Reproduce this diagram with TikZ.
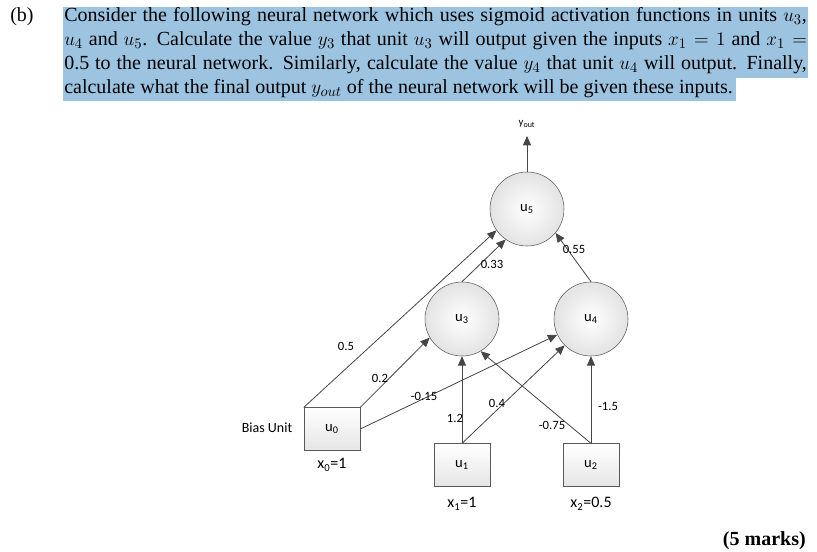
\documentclass[tikz,border=0pt]{standalone}
\usepackage{fontspec}
\setmainfont{Liberation Serif}
\newfontfamily\diag{Carlito}
\usetikzlibrary{arrows.meta}
\begin{document}
\begin{tikzpicture}[x=0.75pt,y=-0.75pt,
  unit/.style={circle,draw=gray!70!black,inner sep=0pt,minimum size=55.5pt,inner color=white,outer color=gray!22,font=\diag\fontsize{11}{13}\selectfont},
  box/.style={rectangle,draw=gray!70!black,inner sep=0pt,minimum width=42pt,minimum height=32pt,top color=white,bottom color=gray!20,font=\diag\fontsize{11}{13}\selectfont},
  lab/.style={font=\diag\fontsize{9.5}{11}\selectfont,inner sep=0pt},
  big/.style={font=\diag\fontsize{12}{14}\selectfont,inner sep=0pt},
  edge/.style={draw=gray!55!black,line width=0.6pt,-{Triangle[length=7pt,width=6pt]}}]
\useasboundingbox (0,0) rectangle (817,552);
\fill[white] (0,0) rectangle (817,552);
\definecolor{hl}{RGB}{156,195,224}
\fill[hl] (63,7) rectangle (808,78);
\fill[hl] (63,78) rectangle (736,101);
\node[anchor=base west,inner sep=0pt,font=\fontsize{15}{18}\selectfont] (b) at (10,22) {(b)};
\node[anchor=north west,inner sep=0pt,text width=557pt,align=justify,font=\fontsize{15}{18}\selectfont] (q) at (64,7.5)
{Consider the following neural network which uses sigmoid activation functions in units $u_3$,\linebreak
$u_4$ and $u_5$. Calculate the value $y_3$ that unit $u_3$ will output given the inputs $x_1=1$ and $x_1=$\linebreak
0.5 to the neural network. Similarly, calculate the value $y_4$ that unit $u_4$ will output. Finally,\linebreak
calculate what the final output $y_{out}$ of the neural network will be given these inputs.};
\node[anchor=base east,inner sep=0pt,font=\bfseries\fontsize{15}{18}\selectfont] (m) at (806,545) {(5 marks)};

\node[unit] (u5) at (527,209) {u\textsubscript{5}};
\node[unit] (u3) at (462,319) {u\textsubscript{3}};
\node[unit] (u4) at (591,319) {u\textsubscript{4}};
\node[box] (u0) at (332,429) {u\textsubscript{0}};
\node[box] (u1) at (462,465) {u\textsubscript{1}};
\node[box] (u2) at (591,465) {u\textsubscript{2}};
\coordinate (yo) at (527,136);
\node[lab,font=\diag\fontsize{8}{9}\selectfont] (ylab) at (527,124) {y\textsubscript{out}};
\node[lab,font=\diag\fontsize{10.5}{12}\selectfont] (bias) at (267,428) {Bias Unit};
\node[big] (x0) at (332,465) {x\textsubscript{0}=1};
\node[big] (x1) at (462,504) {x\textsubscript{1}=1};
\node[big] (x2) at (591,504) {x\textsubscript{2}=0.5};

\draw[edge] (u5.north) -- (yo);
\draw[edge] (u0.north west) -- (u5.215);
\draw[edge] (u0.north east) -- (u3.210);
\draw[edge] (u0.east) -- (u4.205);
\draw[edge] (u1.north) -- (u3.south);
\draw[edge] (u1.north) -- (u4.225);
\draw[edge] (u2.north) -- (u3.300);
\draw[edge] (u2.north) -- (u4.south);
\draw[edge] (u3.north) -- (u5.235);
\draw[edge] (u4.north) -- (u5.320);

\node[lab] (l1) at (346,346) {0.5};
\node[lab] (l2) at (380,378) {0.2};
\node[lab] (l3) at (424,396) {-0.15};
\node[lab] (l4) at (455,418) {1.2};
\node[lab] (l5) at (497,403) {0.4};
\node[lab] (l6) at (552,425) {-0.75};
\node[lab] (l7) at (608,406) {-1.5};
\node[lab] (l8) at (492,264) {0.33};
\node[lab] (l9) at (574,249) {0.55};
\end{tikzpicture}
\end{document}
